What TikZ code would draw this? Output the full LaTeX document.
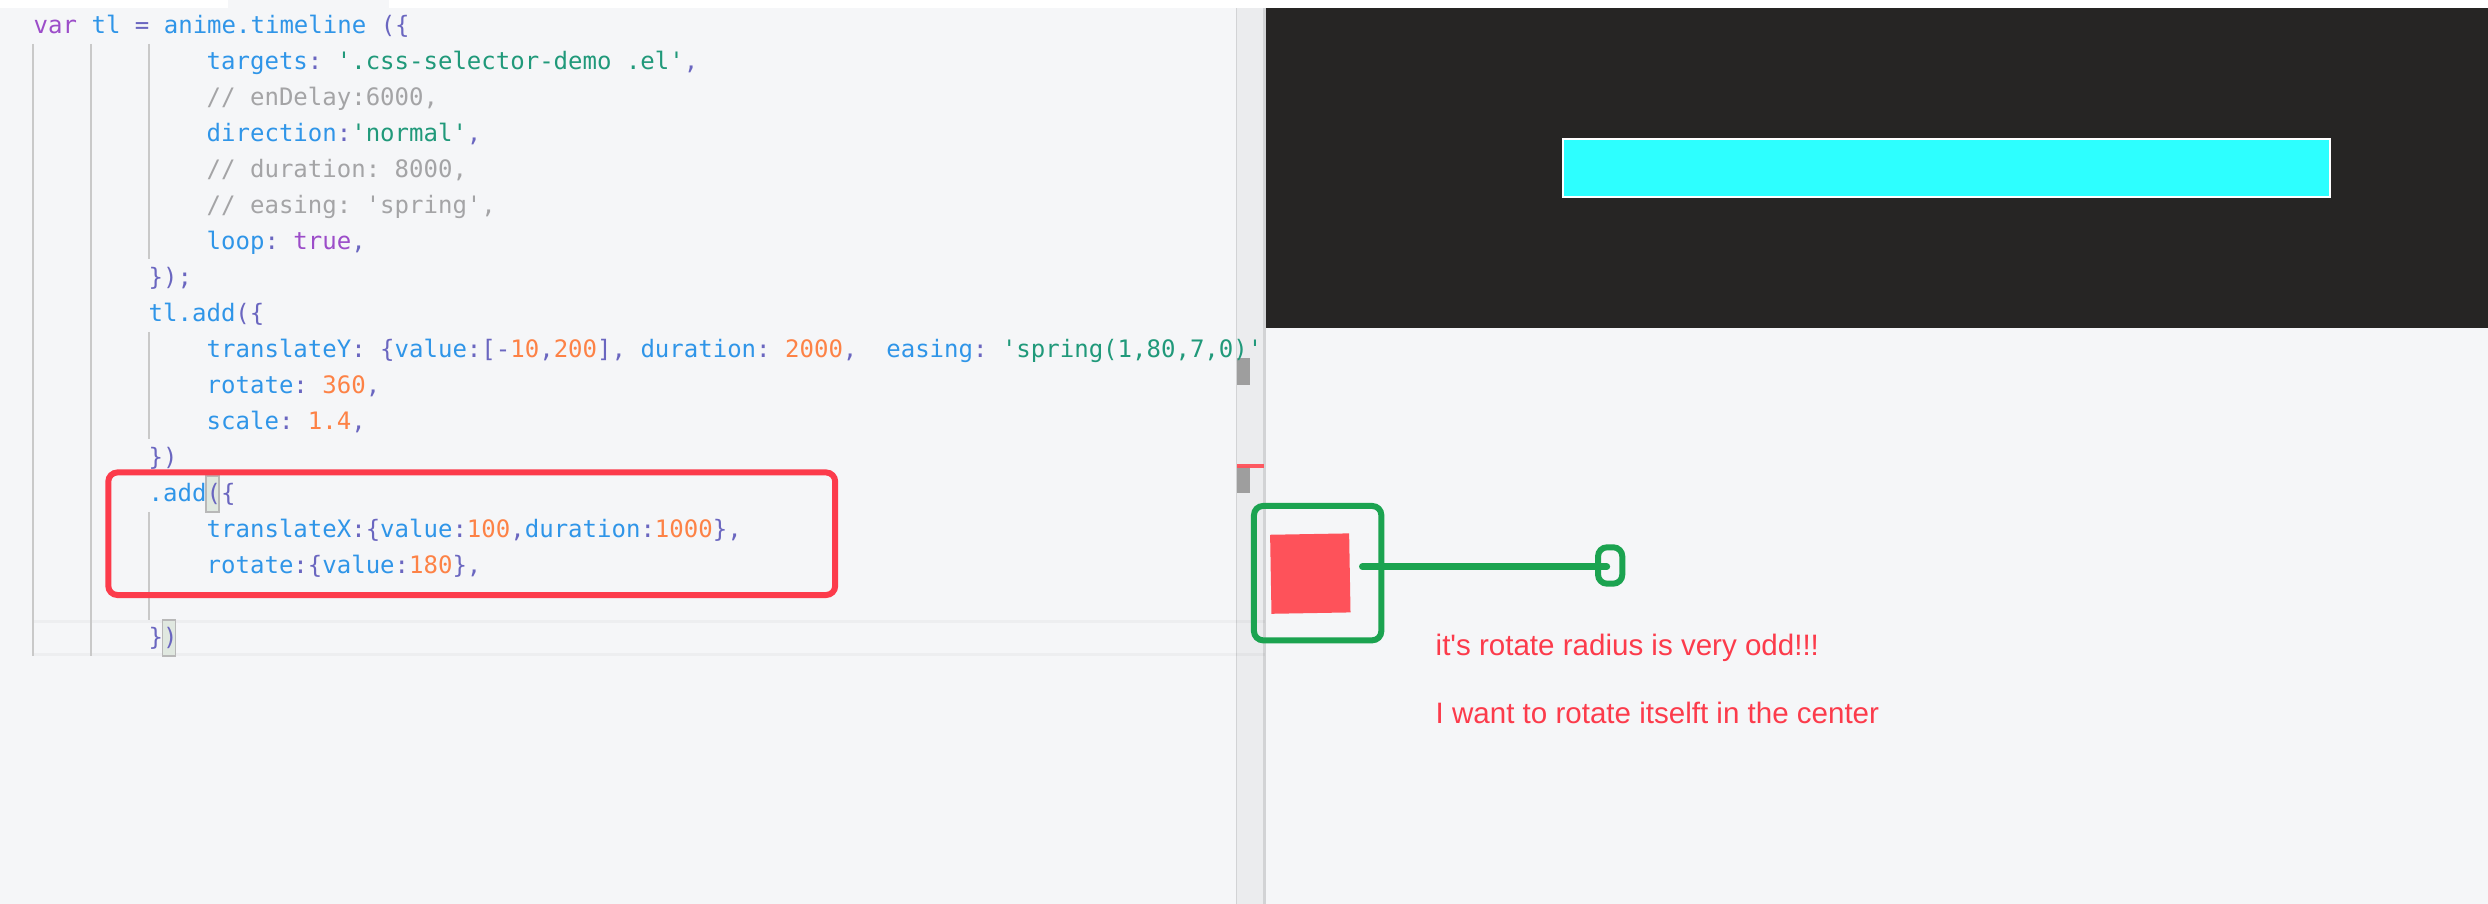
\documentclass[tikz,border=0pt]{standalone}
\usepackage{fontspec}
\newfontfamily\codefont{DejaVu Sans Mono}
\newfontfamily\notefont{Liberation Sans}
\definecolor{pagebg}{HTML}{F5F6F8}
\definecolor{gutterbg}{HTML}{EBECEE}
\definecolor{gutterline}{HTML}{D2D3D5}
\definecolor{thumbgrey}{HTML}{9E9E9E}
\definecolor{guidegrey}{HTML}{C9C9C9}
\definecolor{panelbg}{HTML}{262524}
\definecolor{barcyan}{HTML}{2DFFFF}
\definecolor{markred}{HTML}{FC3B4B}
\definecolor{markgreen}{HTML}{1BA350}
\definecolor{squarered}{HTML}{FE525A}
\definecolor{keyblue}{HTML}{2F95E8}
\definecolor{kwpurple}{HTML}{9C4DC9}
\definecolor{strgreen}{HTML}{20997A}
\definecolor{comgrey}{HTML}{A4A4A6}
\definecolor{numorange}{HTML}{FD8246}
\definecolor{punindigo}{HTML}{6A66C0}
\newcommand{\ckey}[1]{\textcolor{keyblue}{#1}}
\newcommand{\ckw}[1]{\textcolor{kwpurple}{#1}}
\newcommand{\cstr}[1]{\textcolor{strgreen}{#1}}
\newcommand{\ccom}[1]{\textcolor{comgrey}{#1}}
\newcommand{\cnum}[1]{\textcolor{numorange}{#1}}
\newcommand{\cpun}[1]{\textcolor{punindigo}{#1}}
\tikzset{
  code/.style={anchor=base west,inner sep=0pt,font=\codefont\fontsize{6.83}{8}\selectfont\frenchspacing},
  note/.style={anchor=base west,inner sep=0pt,text=markred,font=\notefont\fontsize{8.4}{10}\selectfont},
  bracket/.style={draw=black!28,fill=green!25!black!12,line width=.4pt,inner sep=0pt,minimum width=.13cm,minimum height=.36cm},
  markbox/.style={inner sep=0pt,rounded corners=2.6pt,line width=1.7pt}
}
\begin{document}
\begin{tikzpicture}[x=.01cm,y=-.01cm]
  \useasboundingbox (0,0) rectangle (2488,904);
  \fill[pagebg] (0,0) rectangle (2488,904);
  \fill[white] (0,0) rectangle (228,8);
  \fill[white] (389,0) rectangle (2488,8);
  % scrollbar strip
  \fill[gutterbg] (1237,8) rectangle (1265,904);
  \fill[gutterline] (1236,8) rectangle (1237,904);
  \fill[gutterline] (1263,8) rectangle (1266,904);
  \fill[black,opacity=.03] (33,620) rectangle (1265,623);
  \fill[black,opacity=.03] (33,653) rectangle (1265,656);
  \foreach \ytop/\ybot in {358/385,466/493}
    \fill[thumbgrey] (1237,\ytop) rectangle (1250,\ybot);
  \fill[squarered,opacity=.95] (1237,464) rectangle (1264,468);
  % indent guides
  \foreach \xpos/\ytop/\ybot in {33/44/656,91/44/656,149/44/259,149/332/439,149/512/620}
    \draw[guidegrey,line width=.55pt] (\xpos,\ytop) -- (\xpos,\ybot);
  % preview panel
  \fill[panelbg] (1266,8) rectangle (2488,328);
  \node[draw=white,fill=barcyan,line width=.5pt,inner sep=0pt,minimum width=7.67cm,minimum height=.585cm] (bar) at (1946.5,168) {};
  % matching brackets
  \node[bracket] (openmark) at (212.5,494) {};
  \node[bracket] (closemark) at (169,638) {};
  % code
  \node[code] (l1) at (33,34) {\ckw{var} \ckey{tl} \cpun{=} \ckey{anime.timeline} \cpun{(\{}};
  \node[code] (l2) at (206,70) {\ckey{targets}\cpun{:} \cstr{'.css-selector-demo .el'}\cpun{,}};
  \node[code] (l3) at (206,106) {\ccom{// enDelay:6000,}};
  \node[code] (l4) at (206,142) {\ckey{direction}\cpun{:}\cstr{'normal'}\cpun{,}};
  \node[code] (l5) at (206,178) {\ccom{// duration: 8000,}};
  \node[code] (l6) at (206,214) {\ccom{// easing: 'spring',}};
  \node[code] (l7) at (206,250) {\ckey{loop}\cpun{:} \ckw{true}\cpun{,}};
  \node[code] (l8) at (148,286) {\cpun{\});}};
  \node[code] (l9) at (148,322) {\ckey{tl.add}\cpun{(\{}};
  \node[code] (l10) at (206,358) {\ckey{translateY}\cpun{:} \cpun{\{}\ckey{value}\cpun{:[-}\cnum{10}\cpun{,}\cnum{200}\cpun{],} \ckey{duration}\cpun{:} \cnum{2000}\cpun{,}\ \ \ckey{easing}\cpun{:} \cstr{'spring(1,80,7,0)'}};
  \node[code] (l11) at (206,394) {\ckey{rotate}\cpun{:} \cnum{360}\cpun{,}};
  \node[code] (l12) at (206,430) {\ckey{scale}\cpun{:} \cnum{1.4}\cpun{,}};
  \node[code] (l13) at (148,466) {\cpun{\})}};
  \node[code] (l14) at (148,502) {\ckey{.add}\cpun{(\{}};
  \node[code] (l15) at (206,538) {\ckey{translateX}\cpun{:\{}\ckey{value}\cpun{:}\cnum{100}\cpun{,}\ckey{duration}\cpun{:}\cnum{1000}\cpun{\},}};
  \node[code] (l16) at (206,574) {\ckey{rotate}\cpun{:\{}\ckey{value}\cpun{:}\cnum{180}\cpun{\},}};
  \node[code] (l17) at (148,646) {\cpun{\})}};
  % marks on top
  \node[markbox,draw=markred,minimum width=7.265cm,minimum height=1.225cm] (redbox) at (471.75,533.75) {};
  \node[fill=squarered,inner sep=0pt,minimum width=.79cm,minimum height=.79cm,rotate=1] (square) at (1310.3,573.6) {};
  \node[markbox,draw=markgreen,minimum width=1.273cm,minimum height=1.343cm] (greenbox) at (1317.65,573.15) {};
  \node[markbox,draw=markgreen,minimum width=.243cm,minimum height=.364cm] (handle) at (1610.15,565.5) {};
  \coordinate (linestart) at (1362.5,566.7);
  \draw[markgreen,line width=2pt,line cap=round,shorten >=1pt] (linestart) -- (handle.center |- linestart);
  \node[note] (note1) at (1435,656) {it's rotate radius is very odd!!!};
  \node[note] (note2) at (1435,724) {I want to rotate itselft in the center};
\end{tikzpicture}
\end{document}
